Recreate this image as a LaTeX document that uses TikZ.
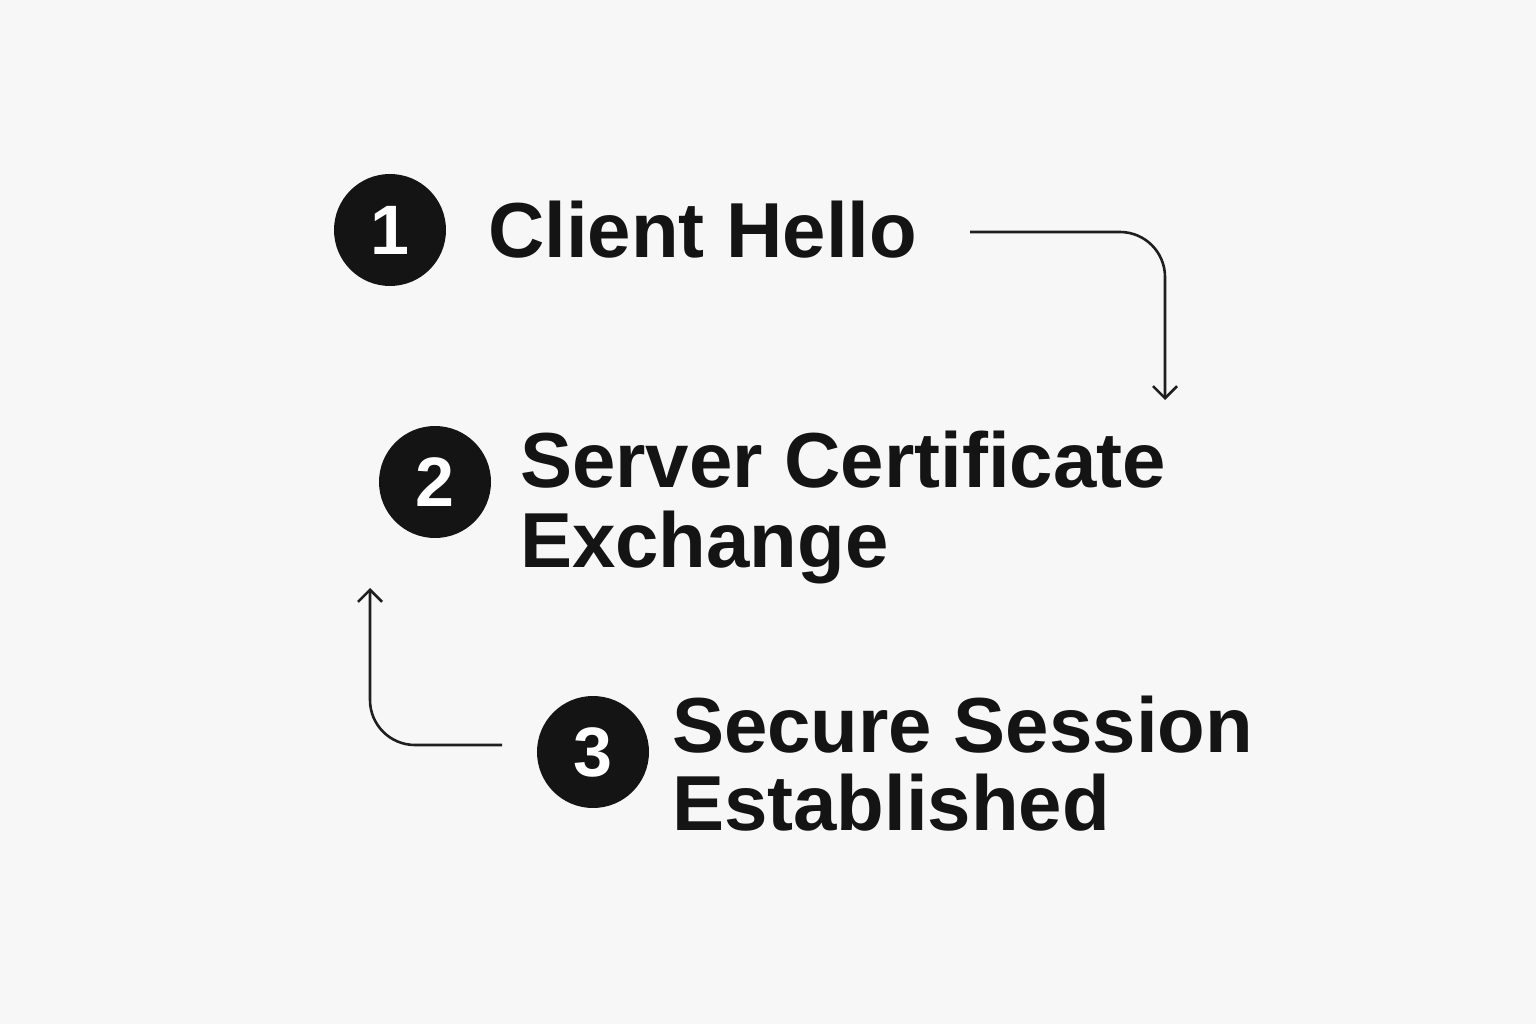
\documentclass[tikz,border=0pt]{standalone}
\usepackage{fontspec}
\setmainfont{Liberation Sans}
\usetikzlibrary{arrows.meta}
\begin{document}
\begin{tikzpicture}[x=1pt,y=-1pt,
  num/.style={circle,fill=black!92,minimum size=112pt,inner sep=0pt,text=white,font=\fontsize{70}{70}\selectfont\bfseries},
  lbl/.style={anchor=base west,inner sep=0pt,text=black!92,font=\fontsize{78}{80}\selectfont\bfseries},
  conn/.style={line width=2.6pt,draw=black!88,rounded corners=45pt,-{Straight Barb[length=12pt,width=24pt,line width=2.6pt]}}]
\fill[white!97!black] (0,0) rectangle (1536,1024);
\useasboundingbox (0,0) rectangle (1536,1024);
\node[num] (n1) at (390,230) {1};
\node[num] (n2) at (435,482) {2};
\node[num] (n3) at (593,752) {3};
\node[lbl] (t1) at (488,258) {Client Hello};
\node[lbl] (t2) at (520,487) {Server Certificate};
\node[lbl] (t2b) at (520,567) {Exchange};
\node[lbl] (t3) at (672,752) {Secure Session};
\node[lbl] (t3b) at (672,830) {Established};
\coordinate (a1s) at (970,232);
\coordinate (a1e) at (1165,400);
\coordinate (a2s) at (502,745);
\coordinate (a2e) at (370,588);
\draw[conn] (a1s) -| (a1e);
\draw[conn] (a2s) -| (a2e);
\end{tikzpicture}
\end{document}
